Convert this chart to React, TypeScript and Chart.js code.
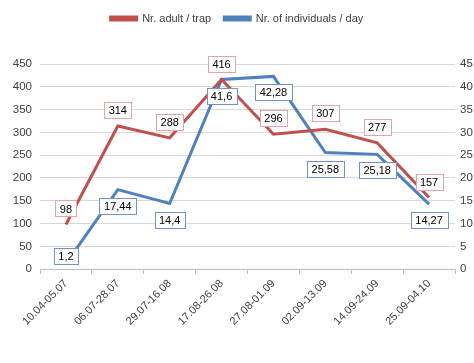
import React, { useEffect, useRef } from "react";
import { Chart, registerables } from "chart.js";

Chart.register(...registerables);

const categories = [
  "10.04-05.07",
  "06.07-28.07",
  "29.07-16.08",
  "17.08-26.08",
  "27.08-01.09",
  "02.09-13.09",
  "14.09-24.09",
  "25.09-04.10",
];
const adultsPerTrap = [98, 314, 288, 416, 296, 307, 277, 157];
const individualsPerDay = [1.2, 17.44, 14.4, 41.6, 42.28, 25.58, 25.18, 14.27];
const adultLabels = ["98", "314", "288", "416", "296", "307", "277", "157"];
const individualLabels = ["1,2", "17,44", "14,4", "41,6", "42,28", "25,58", "25,18", "14,27"];

const RED = "#C0504D";
const BLUE = "#4F81BD";

const legendSpacer = {
  id: "legendSpacer",
  afterInit(chart: any) {
    const legend = chart.legend;
    if (!legend) return;
    const orig = legend.fit;
    legend.fit = function () {
      orig.call(this);
      this.height += 30;
    };
  },
};

const labelPlugin = {
  id: "boxLabels",
  afterDatasetsDraw(chart: any) {
    const ctx = chart.ctx;
    const area = chart.chartArea;
    const cfg = [
      { idx: 0, texts: adultLabels, dir: -1, border: "#E3A4A3" },
      { idx: 1, texts: individualLabels, dir: 1, border: "#6F93C6" },
    ];
    ctx.save();
    ctx.font = "11px 'Liberation Sans', Arial, sans-serif";
    ctx.textAlign = "center";
    ctx.textBaseline = "middle";
    for (const c of cfg) {
      const meta = chart.getDatasetMeta(c.idx);
      meta.data.forEach((pt: any, i: number) => {
        const text = c.texts[i];
        const w = Math.round(ctx.measureText(text).width + 9);
        const h = 16;
        let cy = pt.y + c.dir * 16;
        if (cy + h / 2 > area.bottom - 4) cy = area.bottom - 4 - h / 2 - 1;
        const cx = pt.x;
        const x0 = Math.round(cx - w / 2);
        const y0 = Math.round(cy - h / 2);
        ctx.fillStyle = "#ffffff";
        ctx.fillRect(x0, y0, w, h);
        ctx.strokeStyle = c.border;
        ctx.lineWidth = 1;
        ctx.strokeRect(x0 + 0.5, y0 + 0.5, w, h);
        ctx.fillStyle = "#000000";
        ctx.fillText(text, cx, cy + 1);
      });
    }
    ctx.restore();
  },
};

const FONT = "'Liberation Sans', Arial, sans-serif";

export default function App() {
  const ref = useRef<HTMLCanvasElement>(null);
  useEffect(() => {
    document.body.style.margin = "0";
    const chart = new Chart(ref.current!, {
      type: "line",
      data: {
        labels: categories,
        datasets: [
          {
            label: "Nr. adult / trap",
            data: adultsPerTrap,
            borderColor: RED,
            backgroundColor: RED,
            borderWidth: 3,
            pointRadius: 0,
            yAxisID: "y",
            tension: 0,
          },
          {
            label: "Nr. of individuals / day",
            data: individualsPerDay,
            borderColor: BLUE,
            backgroundColor: BLUE,
            borderWidth: 3,
            pointRadius: 0,
            yAxisID: "y2",
            tension: 0,
          },
        ],
      },
      options: {
        animation: false,
        responsive: false,
        layout: { padding: { left: 0, right: 0, top: 0, bottom: 32 } },
        plugins: {
          legend: {
            position: "top",
            labels: {
              boxWidth: 26,
              boxHeight: 3,
              font: { family: FONT, size: 11 },
              color: "#404040",
              padding: 13,
            },
          },
          tooltip: { enabled: false },
        },
        scales: {
          x: {
            offset: true,
            grid: {
              display: true,
              drawOnChartArea: false,
              tickLength: 5,
              color: "#BFBFBF",
              offset: true,
            },
            border: { color: "#BFBFBF" },
            ticks: {
              maxRotation: 45,
              minRotation: 45,
              font: { family: FONT, size: 11 },
              color: "#404040",
            },
          },
          y: {
            position: "left",
            min: 0,
            max: 450,
            afterFit: (s: any) => {
              s.width = 40;
            },
            ticks: {
              stepSize: 50,
              font: { family: FONT, size: 11.5 },
              color: "#404040",
              padding: 8,
            },
            grid: { color: "#D9D9D9", drawTicks: false },
            border: { display: false },
          },
          y2: {
            position: "right",
            min: 0,
            max: 45,
            afterFit: (s: any) => {
              s.width = 19;
            },
            ticks: {
              stepSize: 5,
              font: { family: FONT, size: 11.5 },
              color: "#404040",
              padding: 5,
            },
            grid: { drawOnChartArea: false, drawTicks: false },
            border: { display: false },
          },
        },
      },
      plugins: [legendSpacer, labelPlugin],
    });
    return () => chart.destroy();
  }, []);
  return (
    <div style={{ width: 474, height: 363 }}>
      <canvas ref={ref} width={474} height={363} />
    </div>
  );
}
